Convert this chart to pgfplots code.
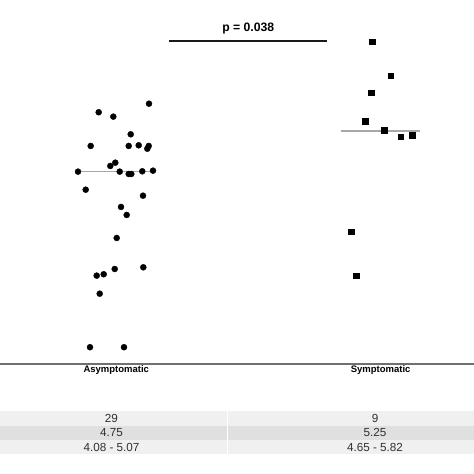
\documentclass[border=0pt]{standalone}
\usepackage{pgfplots}
\pgfplotsset{compat=1.18}
\usepackage{fontspec}
\setmainfont{Liberation Sans}
\definecolor{medgray}{HTML}{A8A8A8}
\definecolor{axgray}{HTML}{707070}
\definecolor{rowA}{HTML}{F0F0F0}
\definecolor{rowB}{HTML}{E0E0E0}
\definecolor{txt}{HTML}{303030}
\begin{document}
\begin{tikzpicture}[x=1pt,y=1pt]
\begin{axis}[
  at={(0,0)}, anchor=south west,
  scale only axis, width=474pt, height=474pt,
  xmin=0.5633, xmax=2.3554, ymin=1.015, ymax=6.867,
  axis lines=none, clip=false,
]
% table background
\fill[rowA] (rel axis cs:0,{(474-425.7)/474}) rectangle (rel axis cs:1,{(474-411)/474});
\fill[rowB] (rel axis cs:0,{(474-440)/474}) rectangle (rel axis cs:1,{(474-425.7)/474});
\fill[rowA] (rel axis cs:0,{(474-454.3)/474}) rectangle (rel axis cs:1,{(474-440)/474});
\draw[white, line width=1.5pt] (rel axis cs:{227.7/474},{(474-454.3)/474}) -- (rel axis cs:{227.7/474},{(474-411)/474});
% Asymptomatic
\addplot[only marks, mark=*, mark size=3pt, black] coordinates {
(1.1267,5.587) (0.9365,5.481) (0.9917,5.427) (1.0575,5.209) (0.9062,5.065)
(1.0499,5.065) (1.0877,5.073) (1.1255,5.065) (1.1202,5.031) (0.9992,4.859)
(0.9803,4.818) (0.8582,4.748) (1.0159,4.748) (1.0499,4.719) (1.0597,4.719)
(1.1013,4.752) (1.1418,4.760) (0.8873,4.525) (1.1040,4.451) (1.0208,4.312)
(1.0423,4.213) (1.0045,3.929) (1.1051,3.567) (0.9970,3.546) (0.9289,3.464)
(0.9554,3.481) (0.9403,3.241) (0.9036,2.580) (1.0321,2.580)
};
% Symptomatic
\addplot[only marks, mark=square*, mark size=2.7pt, black] coordinates {
(1.9709,6.352) (2.0405,5.933) (1.9671,5.719) (1.9433,5.373) (2.0163,5.259)
(2.0783,5.180) (2.1221,5.197) (1.8915,4.003) (1.9093,3.460)
};
% medians
\addplot[medgray, line width=1.1pt] coordinates {(0.8582,4.75) (1.1418,4.75)};
\addplot[medgray, line width=1.1pt] coordinates {(1.8514,5.25) (2.1512,5.25)};
% p bracket
\addplot[black!90, line width=1.4pt] coordinates {(1.2034,6.361) (1.7985,6.361)};
\node[font=\bfseries\fontsize{12.2}{14}\selectfont, text=black] at (axis cs:1.502,6.518) {p = 0.038};
% bottom axis line
\draw[axgray, line width=1.6pt] (rel axis cs:0,{(474-363.7)/474}) -- (rel axis cs:1,{(474-363.7)/474});
% category labels
\node[font=\bfseries\fontsize{9.5}{11}\selectfont, text=black] at (rel axis cs:{116.3/474},{(474-370)/474}) {Asymptomatic};
\node[font=\bfseries\fontsize{9.5}{11}\selectfont, text=black] at (rel axis cs:{380.7/474},{(474-370)/474}) {Symptomatic};
% table text
\begin{scope}[every node/.style={font=\fontsize{11.7}{13}\selectfont, text=txt}]
\node at (rel axis cs:{111.5/474},{(474-418.3)/474}) {29};
\node at (rel axis cs:{111.5/474},{(474-432.8)/474}) {4.75};
\node at (rel axis cs:{111.5/474},{(474-447)/474}) {4.08 - 5.07};
\node at (rel axis cs:{375/474},{(474-418.3)/474}) {9};
\node at (rel axis cs:{375/474},{(474-432.8)/474}) {5.25};
\node at (rel axis cs:{375/474},{(474-447)/474}) {4.65 - 5.82};
\end{scope}
\end{axis}
\pgfresetboundingbox
\path (0,0) rectangle (474,474);
\end{tikzpicture}
\end{document}
